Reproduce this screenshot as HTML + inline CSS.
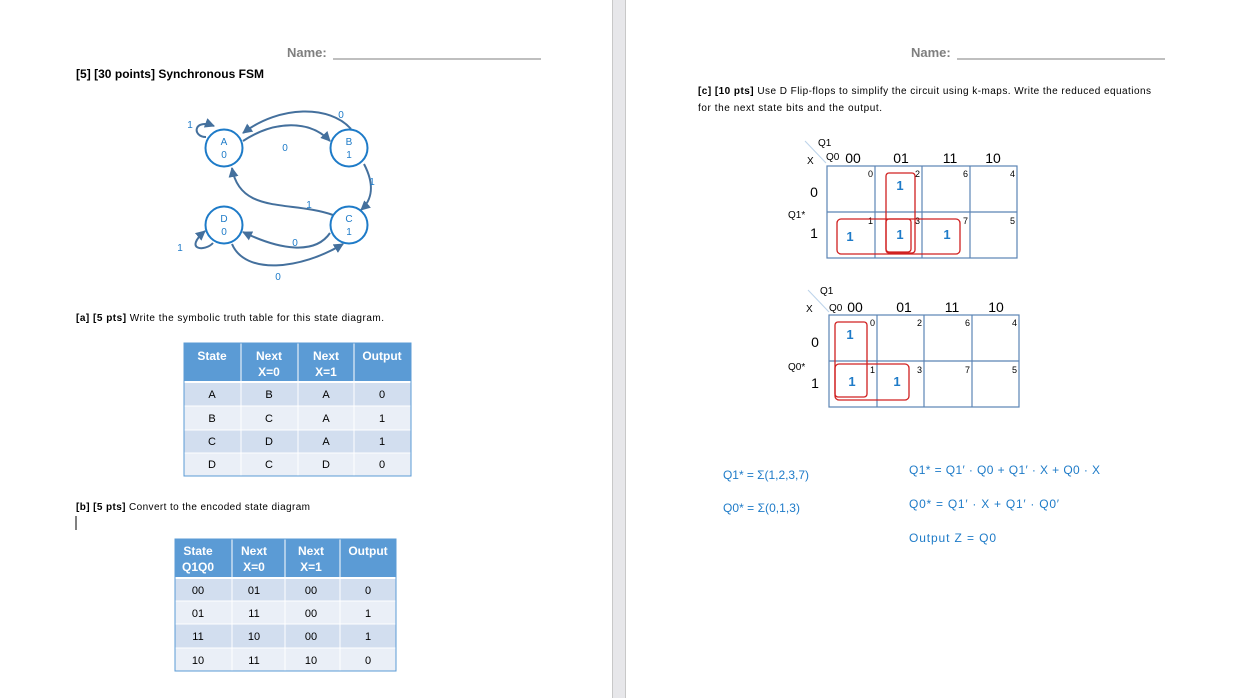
<!DOCTYPE html>
<html><head><meta charset="utf-8"><style>
body{margin:0;background:#e7e7ea;width:1236px;height:698px;overflow:hidden}
svg{display:block}
text{font-family:"Liberation Sans",sans-serif}
</style></head><body>
<svg width="1236" height="698" viewBox="0 0 1236 698" xmlns="http://www.w3.org/2000/svg">
<defs>
<marker id="ar" viewBox="0 0 10 10" refX="9" refY="5" markerWidth="5" markerHeight="5" orient="auto"><path d="M0,0L10,5L0,10z" fill="#44709d"/></marker>
</defs>
<rect x="0" y="0" width="612" height="698" fill="#fff"/>
<rect x="612" y="0" width="1" height="698" fill="#c8c8c8"/>
<rect x="625" y="0" width="1" height="698" fill="#c8c8c8"/>
<rect x="626" y="0" width="610" height="698" fill="#fff"/>

<!-- Left page -->
<text x="287" y="57" font-size="13" font-weight="bold" fill="#7f7f7f">Name:</text>
<line x1="333" y1="59" x2="541" y2="59" stroke="#7f7f7f" stroke-width="1"/>
<text x="76" y="78" font-size="12" font-weight="bold" fill="#000" textLength="188">[5] [30 points]  Synchronous FSM</text>

<g fill="none" stroke="#44709d" stroke-width="2">
<path d="M243,141 C275,120 310,120 330,141" marker-end="url(#ar)"/>
<path d="M351,129 C330,105 280,105 243,133" marker-end="url(#ar)"/>
<path d="M364,164 C375,185 372,200 361,210" marker-end="url(#ar)"/>
<path d="M333,215 C290,200 240,215 232,168" marker-end="url(#ar)"/>
<path d="M330,233 C315,255 280,250 243,232" marker-end="url(#ar)"/>
<path d="M232,244 C245,275 300,270 343,244" marker-end="url(#ar)"/>
<path d="M206,137 C192,137 193,118 214,126" marker-end="url(#ar)"/>
<path d="M213,243 C205,252 183,250 205,231" marker-end="url(#ar)"/>
</g>
<g fill="#fff" stroke="#1e7bc8" stroke-width="2">
<circle cx="224" cy="148" r="18.5"/><circle cx="349" cy="148" r="18.5"/>
<circle cx="349" cy="225" r="18.5"/><circle cx="224" cy="225" r="18.5"/>
</g>
<g font-size="10" fill="#1e7bc8" text-anchor="middle">
<text x="224" y="145">A</text><text x="224" y="158">0</text>
<text x="349" y="145">B</text><text x="349" y="158">1</text>
<text x="349" y="222">C</text><text x="349" y="235">1</text>
<text x="224" y="222">D</text><text x="224" y="235">0</text>
<text x="341" y="118">0</text><text x="285" y="151">0</text>
<text x="190" y="128">1</text><text x="372" y="185">1</text>
<text x="309" y="208">1</text><text x="295" y="246">0</text>
<text x="180" y="251">1</text><text x="278" y="280">0</text>
</g>

<text x="76" y="321" font-size="10" fill="#000" textLength="308"><tspan font-weight="bold">[a] [5 pts]</tspan>  Write the symbolic truth table for this state diagram.</text>

<!-- Table 1 -->
<rect x="184" y="343" width="227" height="39" fill="#5b9bd5"/>
<rect x="184" y="382" width="227" height="24" fill="#d2deef"/>
<rect x="184" y="406" width="227" height="24" fill="#eaeff7"/>
<rect x="184" y="430" width="227" height="23" fill="#d2deef"/>
<rect x="184" y="453" width="227" height="23" fill="#eaeff7"/>
<g stroke="#fff" stroke-width="1"><line x1="241" y1="343" x2="241" y2="476"/><line x1="298" y1="343" x2="298" y2="476"/><line x1="354" y1="343" x2="354" y2="476"/><line x1="184" y1="406" x2="411" y2="406"/><line x1="184" y1="430" x2="411" y2="430"/><line x1="184" y1="453" x2="411" y2="453"/></g>
<line x1="184" y1="382" x2="411" y2="382" stroke="#fff" stroke-width="2"/>
<rect x="184" y="343" width="227" height="133" fill="none" stroke="#5b9bd5"/>
<g font-size="12" font-weight="bold" fill="#fff" text-anchor="middle">
<text x="212" y="360">State</text><text x="269" y="360">Next</text><text x="269" y="376">X=0</text>
<text x="326" y="360">Next</text><text x="326" y="376">X=1</text><text x="382" y="360">Output</text></g>
<g font-size="11" fill="#000" text-anchor="middle">
<text x="212" y="398">A</text><text x="269" y="398">B</text><text x="326" y="398">A</text><text x="382" y="398">0</text>
<text x="212" y="422">B</text><text x="269" y="422">C</text><text x="326" y="422">A</text><text x="382" y="422">1</text>
<text x="212" y="445">C</text><text x="269" y="445">D</text><text x="326" y="445">A</text><text x="382" y="445">1</text>
<text x="212" y="468">D</text><text x="269" y="468">C</text><text x="326" y="468">D</text><text x="382" y="468">0</text></g>

<text x="76" y="510" font-size="10" fill="#000" textLength="234"><tspan font-weight="bold">[b] [5 pts]</tspan> Convert to the encoded state diagram</text>
<line x1="76" y1="516" x2="76" y2="530" stroke="#000"/>

<!-- Table 2 -->
<rect x="175" y="539" width="221" height="39" fill="#5b9bd5"/>
<rect x="175" y="578" width="221" height="23" fill="#d2deef"/>
<rect x="175" y="601" width="221" height="23" fill="#eaeff7"/>
<rect x="175" y="624" width="221" height="24" fill="#d2deef"/>
<rect x="175" y="648" width="221" height="23" fill="#eaeff7"/>
<g stroke="#fff" stroke-width="1"><line x1="232" y1="539" x2="232" y2="671"/><line x1="285" y1="539" x2="285" y2="671"/><line x1="340" y1="539" x2="340" y2="671"/><line x1="175" y1="601" x2="396" y2="601"/><line x1="175" y1="624" x2="396" y2="624"/><line x1="175" y1="648" x2="396" y2="648"/></g>
<line x1="175" y1="578" x2="396" y2="578" stroke="#fff" stroke-width="2"/>
<rect x="175" y="539" width="221" height="132" fill="none" stroke="#5b9bd5"/>
<g font-size="12" font-weight="bold" fill="#fff" text-anchor="middle">
<text x="198" y="555">State</text><text x="198" y="571">Q1Q0</text><text x="254" y="555">Next</text><text x="254" y="571">X=0</text>
<text x="311" y="555">Next</text><text x="311" y="571">X=1</text><text x="368" y="555">Output</text></g>
<g font-size="11" fill="#000" text-anchor="middle">
<text x="198" y="594">00</text><text x="254" y="594">01</text><text x="311" y="594">00</text><text x="368" y="594">0</text>
<text x="198" y="617">01</text><text x="254" y="617">11</text><text x="311" y="617">00</text><text x="368" y="617">1</text>
<text x="198" y="640">11</text><text x="254" y="640">10</text><text x="311" y="640">00</text><text x="368" y="640">1</text>
<text x="198" y="664">10</text><text x="254" y="664">11</text><text x="311" y="664">10</text><text x="368" y="664">0</text></g>

<!-- Right page -->
<text x="911" y="57" font-size="13" font-weight="bold" fill="#7f7f7f">Name:</text>
<line x1="957" y1="59" x2="1165" y2="59" stroke="#7f7f7f"/>
<text x="698" y="94" font-size="10" fill="#000" textLength="453"><tspan font-weight="bold">[c] [10 pts]</tspan>  Use D Flip-flops to simplify the circuit using k-maps. Write the reduced equations</text>
<text x="698" y="111" font-size="10" fill="#000" textLength="184">for the next state bits and the output.</text>

<!-- Kmap 1 -->
<line x1="805" y1="141" x2="826" y2="163" stroke="#bcd3ea"/>
<line x1="808" y1="290" x2="829" y2="312" stroke="#bcd3ea"/>
<g font-size="10" fill="#000"><text x="818" y="146">Q1</text><text x="807" y="164">X</text><text x="826" y="160">Q0</text><text x="788" y="218">Q1*</text>
<text x="806" y="312">X</text><text x="820" y="294">Q1</text><text x="829" y="311">Q0</text><text x="788" y="370">Q0*</text></g>
<g font-size="14" fill="#000" text-anchor="middle">
<text x="853" y="163">00</text><text x="901" y="163">01</text><text x="950" y="163">11</text><text x="993" y="163">10</text>
<text x="814" y="197">0</text><text x="814" y="238">1</text>
<text x="855" y="312">00</text><text x="904" y="312">01</text><text x="952" y="312">11</text><text x="996" y="312">10</text>
<text x="815" y="347">0</text><text x="815" y="388">1</text></g>
<g fill="none" stroke="#5b84b5" stroke-width="1.2">
<rect x="827" y="166" width="190" height="92"/><line x1="827" y1="212" x2="1017" y2="212"/>
<line x1="875" y1="166" x2="875" y2="258"/><line x1="922" y1="166" x2="922" y2="258"/><line x1="970" y1="166" x2="970" y2="258"/>
<rect x="829" y="315" width="190" height="92"/><line x1="829" y1="361" x2="1019" y2="361"/>
<line x1="877" y1="315" x2="877" y2="407"/><line x1="924" y1="315" x2="924" y2="407"/><line x1="972" y1="315" x2="972" y2="407"/></g>
<g font-size="9" fill="#000" text-anchor="end">
<text x="873" y="177">0</text><text x="920" y="177">2</text><text x="968" y="177">6</text><text x="1015" y="177">4</text>
<text x="873" y="224">1</text><text x="920" y="224">3</text><text x="968" y="224">7</text><text x="1015" y="224">5</text>
<text x="875" y="326">0</text><text x="922" y="326">2</text><text x="970" y="326">6</text><text x="1017" y="326">4</text>
<text x="875" y="373">1</text><text x="922" y="373">3</text><text x="970" y="373">7</text><text x="1017" y="373">5</text></g>
<g font-size="13" font-weight="bold" fill="#1e7bc8" text-anchor="middle">
<text x="900" y="190">1</text><text x="850" y="241">1</text><text x="900" y="239">1</text><text x="947" y="239">1</text>
<text x="850" y="339">1</text><text x="852" y="386">1</text><text x="897" y="386">1</text></g>
<g fill="none" stroke="#d02020" stroke-width="1.3">
<rect x="886" y="173" width="29" height="80" rx="3"/>
<rect x="837" y="219" width="123" height="35" rx="4"/>
<rect x="886" y="219" width="25" height="33" rx="3"/>
<rect x="835" y="322" width="32" height="75" rx="3"/>
<rect x="835" y="364" width="74" height="36" rx="4"/></g>

<g font-size="12" fill="#1e7bc8">
<text x="723" y="479" textLength="86">Q1* = Σ(1,2,3,7)</text>
<text x="723" y="512" textLength="77">Q0* = Σ(0,1,3)</text>
<text x="909" y="474" textLength="191">Q1* = Q1′ · Q0 +  Q1′ · X + Q0 · X</text>
<text x="909" y="508" textLength="150">Q0* = Q1′ · X  +   Q1′ · Q0′</text>
<text x="909" y="542" textLength="87">Output Z =  Q0</text></g>
</svg>
</body></html>
